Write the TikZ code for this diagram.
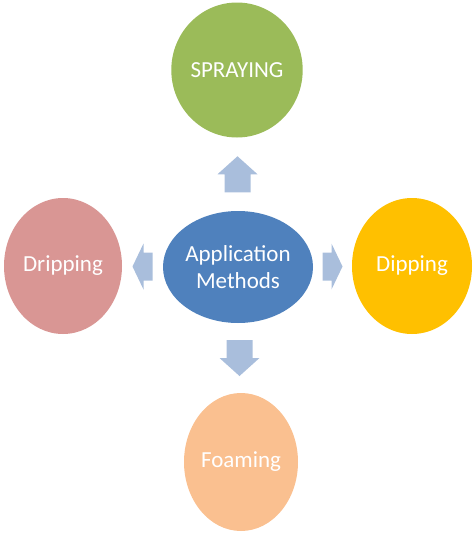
\documentclass[tikz,border=0pt]{standalone}
\usepackage{fontspec}
\setmainfont{Carlito}
\usepackage{xcolor}
\usepackage{tikz}
\usetikzlibrary{shapes.geometric,calc}

\definecolor{centreblue}{HTML}{4F81BD}
\definecolor{spraygreen}{HTML}{9BBB59}
\definecolor{drippink}{HTML}{D99694}
\definecolor{dipgold}{HTML}{FFC000}
\definecolor{foampeach}{HTML}{FAC090}
\definecolor{arrowblue}{HTML}{A9BEDC}

\tikzset{
    method/.style={ellipse, inner sep=0pt, text=white, font=\fontsize{23}{27}\selectfont},
    blockarr/.style={fill=arrowblue, draw=none}
}

\begin{document}
\begin{tikzpicture}[x=1pt, y=-1pt]
        \useasboundingbox (0,0) rectangle (474,533);

        % methods
        \node[method, fill=centreblue, minimum width=150pt, minimum height=112pt,
              align=center] (centre) at (238,267) {Application\\Methods};
        \node[method, fill=spraygreen, minimum width=131pt, minimum height=135pt] (spray) at (237,70) {SPRAYING};
        \node[method, fill=drippink, minimum width=118pt, minimum height=136pt] (drip) at (63,266) {Dripping};
        \node[method, fill=dipgold, minimum width=120pt, minimum height=136pt] (dip) at (412,266) {Dipping};
        \node[method, fill=foampeach, minimum width=114pt, minimum height=138pt] (foam) at (241,462) {Foaming};

        % block arrows
        \coordinate (upmid) at ($(centre.north)!0.5!(spray.south)$);
        \coordinate (downmid) at ($(centre.south)!0.5!(foam.north)$);
        \coordinate (leftmid) at ($(centre.west)!0.5!(drip.east)$);
        \coordinate (rightmid) at ($(centre.east)!0.5!(dip.west)$);

        \fill[blockarr, shift={(upmid)}] (-13,18) -- (-13,0) -- (-20,0) -- (0,-18) -- (20,0) -- (13,0) -- (13,18) -- cycle;
        \fill[blockarr, shift={(downmid)}] (-13,-18) -- (-13,0) -- (-20,0) -- (0,18) -- (20,0) -- (13,0) -- (13,-18) -- cycle;
        \fill[blockarr, shift={(leftmid)}] (10,-14) -- (1,-14) -- (1,-23) -- (-10,0) -- (1,23) -- (1,14) -- (10,14) -- cycle;
        \fill[blockarr, shift={(rightmid)}] (-10,-14) -- (-1,-14) -- (-1,-23) -- (10,0) -- (-1,23) -- (-1,14) -- (-10,14) -- cycle;
    \end{tikzpicture}
\end{document}
